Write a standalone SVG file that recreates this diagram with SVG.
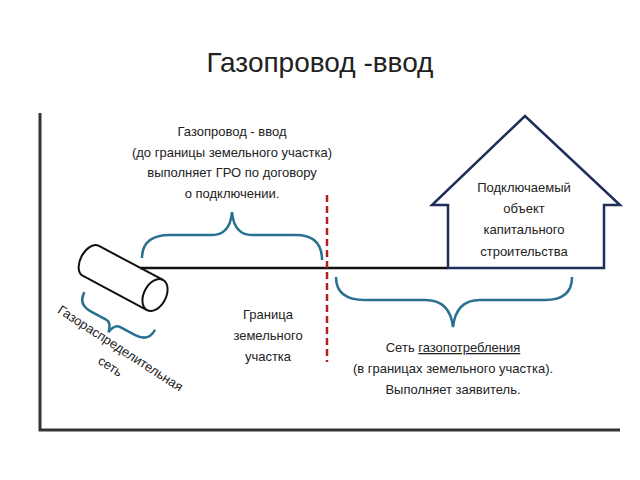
<svg xmlns="http://www.w3.org/2000/svg" width="640" height="480" viewBox="0 0 640 480">
<style>
text{font-family:"Liberation Sans",Arial,sans-serif;fill:#222;text-anchor:middle}
.t{font-size:13px}
.br{fill:none;stroke:#2a7090;stroke-width:2.5}
.k{fill:none;stroke:#111;stroke-width:2}
</style>
<rect width="640" height="480" fill="#fff"/>
<text x="320" y="72" style="font-size:28px">Газопровод -ввод</text>
<g id="frame"><path d="M40 113V430H620" fill="none" stroke="#333" stroke-width="3"/></g>
<g id="connectors">
<line x1="140" y1="268" x2="448" y2="268" stroke="#111" stroke-width="2.5"/>
<line x1="327" y1="195" x2="327" y2="362" stroke="#b02020" stroke-width="2.5" stroke-dasharray="7,4"/>
<path class="br" d="M142 258Q142 235 170 235H212Q230 235 232 212Q234 235 252 235H296Q322 235 322 260"/>
<path class="br" d="M336 277Q336 300 365 300H425Q450 300 453 327Q456 300 480 300H545Q572 300 572 277"/>
<path class="br" d="M-40 -8Q-40 6 -25 6H-8Q-2 6 0 16Q2 6 8 6H25Q40 6 40 -8" transform="translate(116 318) rotate(28)"/>
</g>
<g id="pipe" transform="rotate(28 155 295)">
<path class="k" d="M155 278H82A10 17 0 0 0 82 312H155" fill="#fff"/>
<ellipse class="k" cx="155" cy="295" rx="11" ry="17" fill="#fff"/>
</g>
<g id="house">
<path d="M448 268V205H432L525 116L620 205H604V268Z" fill="#fff" stroke="#1f2f5a" stroke-width="2.5"/>
<text class="t" x="524" y="192">Подключаемый</text>
<text class="t" x="524" y="213">объект</text>
<text class="t" x="524" y="234">капитального</text>
<text class="t" x="524" y="256">строительства</text>
</g>
<g id="top-label">
<text class="t" x="232" y="136">Газопровод - ввод</text>
<text class="t" x="232" y="157">(до границы земельного участка)</text>
<text class="t" x="232" y="177">выполняет ГРО по договору</text>
<text class="t" x="232" y="198">о подключении.</text>
</g>
<g id="boundary-label">
<text class="t" x="268" y="319">Граница</text>
<text class="t" x="268" y="340">земельного</text>
<text class="t" x="268" y="361">участка</text>
</g>
<g id="consumer-label">
<text class="t" x="453" y="352">Сеть <tspan text-decoration="underline">газопотребления</tspan></text>
<text class="t" x="453" y="373">(в границах земельного участка).</text>
<text class="t" x="453" y="394">Выполняет заявитель.</text>
</g>
<g id="network-label">
<text class="t" transform="translate(118 352) rotate(33)">Газораспределительная</text>
<text class="t" transform="translate(108 370) rotate(33)">сеть</text>
</g>
</svg>
